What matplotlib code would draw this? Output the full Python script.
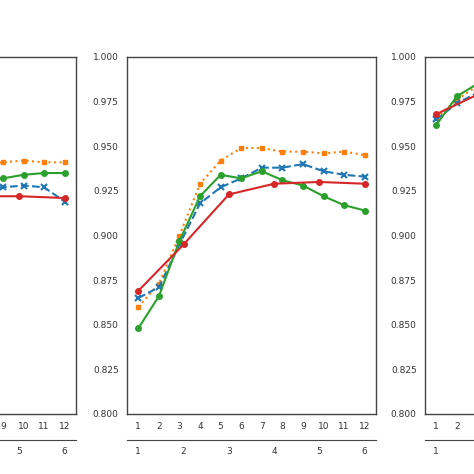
import numpy as np
import matplotlib
matplotlib.use("Agg")
import matplotlib.pyplot as plt

layers = np.arange(1, 13)
blocks = np.arange(1, 7)
block_pos = 1 + (blocks - 1) * 11 / 5

# left panel (only the right part is visible)
left_x = [8, 9, 10, 11, 12]
left_orange = [0.940, 0.941, 0.942, 0.941, 0.941]
left_blue = [0.927, 0.927, 0.928, 0.927, 0.919]
left_green = [0.931, 0.932, 0.934, 0.935, 0.935]
left_red_x = [7.6, 9.8, 12]
left_red = [0.922, 0.922, 0.921]

# middle panel
mid_orange = [0.860, 0.873, 0.900, 0.929, 0.942, 0.949, 0.949, 0.947, 0.947, 0.946, 0.947, 0.945]
mid_blue = [0.865, 0.871, 0.895, 0.918, 0.927, 0.932, 0.938, 0.938, 0.940, 0.936, 0.934, 0.933]
mid_green = [0.848, 0.866, 0.897, 0.922, 0.934, 0.932, 0.936, 0.931, 0.928, 0.922, 0.917, 0.914]
mid_red = [0.869, 0.895, 0.923, 0.929, 0.930, 0.929]

# right panel (only the left part is visible)
right_x = [1, 2, 3]
right_orange = [0.966, 0.976, 0.984]
right_blue = [0.965, 0.974, 0.980]
right_green = [0.962, 0.978, 0.985]
right_red_x = [1, 3.2]
right_red = [0.968, 0.980]

C_BLUE, C_ORANGE, C_GREEN, C_RED = "#1f77b4", "#ff7f0e", "#2ca02c", "#d62728"

fig = plt.figure(figsize=(4.74, 4.74), dpi=100)
W = H = 474.0


def make_ax(left_px, xt, bt, show_y=True):
    ax = fig.add_axes([left_px / W, 1 - 414 / H, 249 / W, 357 / H])
    ax.set_xlim(0.45, 12.55)
    ax.set_ylim(0.8, 1.0)
    ax.set_xticks(xt)
    ax.set_yticks(np.arange(0.8, 1.0001, 0.025))
    ax.yaxis.set_major_formatter(matplotlib.ticker.FormatStrFormatter("%.3f"))
    ax.tick_params(labelsize=6.5, colors="#333333", length=0, pad=6)
    ax.tick_params(axis="y", labelleft=show_y)
    for s in ax.spines.values():
        s.set_color("#444444")
        s.set_linewidth(1)
    sec = ax.secondary_xaxis(-0.073, functions=(lambda x: 1 + (x - 1) * 5 / 11,
                                                  lambda b: 1 + (b - 1) * 11 / 5))
    sec.set_xticks(bt)
    sec.tick_params(labelsize=6.5, colors="#333333", length=0, pad=5)
    sec.spines["bottom"].set_color("#444444")
    return ax


def draw(ax, xs, o, b, g, rx, r):
    ax.plot(xs, o, color=C_ORANGE, ls=":", lw=1.5, marker="s", ms=3)
    ax.plot(xs, b, color=C_BLUE, ls="--", lw=1.5, marker="x", ms=4, mew=1.5)
    ax.plot(xs, g, color=C_GREEN, ls="-", lw=1.5, marker="o", ms=4)
    ax.plot(rx, r, color=C_RED, ls="-", lw=1.5, marker="o", ms=4)


ax1 = make_ax(-173, [9, 10, 11, 12], [5, 6], show_y=False)
draw(ax1, left_x, left_orange, left_blue, left_green, left_red_x, left_red)
ax2 = make_ax(127, layers, blocks)
draw(ax2, layers, mid_orange, mid_blue, mid_green, block_pos, mid_red)
ax3 = make_ax(425, [1, 2], [1])
draw(ax3, right_x, right_orange, right_blue, right_green, right_red_x, right_red)

fig.savefig("out.png", dpi=100)
